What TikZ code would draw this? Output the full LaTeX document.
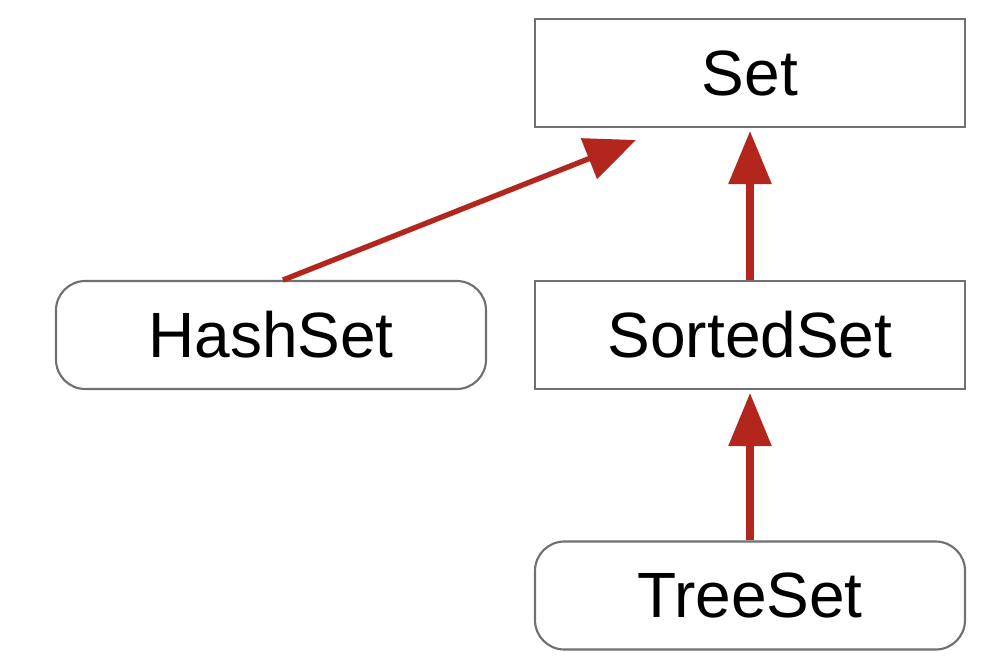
\documentclass[tikz,border=0pt]{standalone}
\usepackage{fontspec}
\setmainfont{Liberation Sans}
\usetikzlibrary{arrows.meta}
\definecolor{arrred}{HTML}{B3261E}
\definecolor{boxgray}{HTML}{707070}
\begin{document}
\begin{tikzpicture}[x=0.75pt,y=-0.75pt,
  sqbox/.style={draw=boxgray,line width=1.6pt,minimum width=322.5pt,minimum height=81pt,inner sep=0pt,font=\fontsize{48}{48}\selectfont},
  rdbox/.style={sqbox,rounded corners=22pt},
  inh/.style={draw=arrred,line width=6pt,-{Triangle[length=40pt,width=31pt]},shorten >=2pt}]
\useasboundingbox (0,0) rectangle (984,664);
\fill[white] (0,0) rectangle (984,664);
\node[sqbox] (set) at (750,73) {Set};
\node[rdbox] (hash) at (271,335) {HashSet};
\node[sqbox] (sorted) at (750,335) {SortedSet};
\node[rdbox] (tree) at (750,595.5) {TreeSet};
\coordinate (hashtop) at (283,280);
\coordinate (diagtip) at (636,140);
\draw[inh,line width=4pt,-{Triangle[length=38pt,width=32pt]},shorten >=0pt] (hashtop) -- (diagtip);
\draw[inh] (sorted.north) -- (set.south);
\draw[inh] (tree.north) -- (sorted.south);
\end{tikzpicture}
\end{document}
